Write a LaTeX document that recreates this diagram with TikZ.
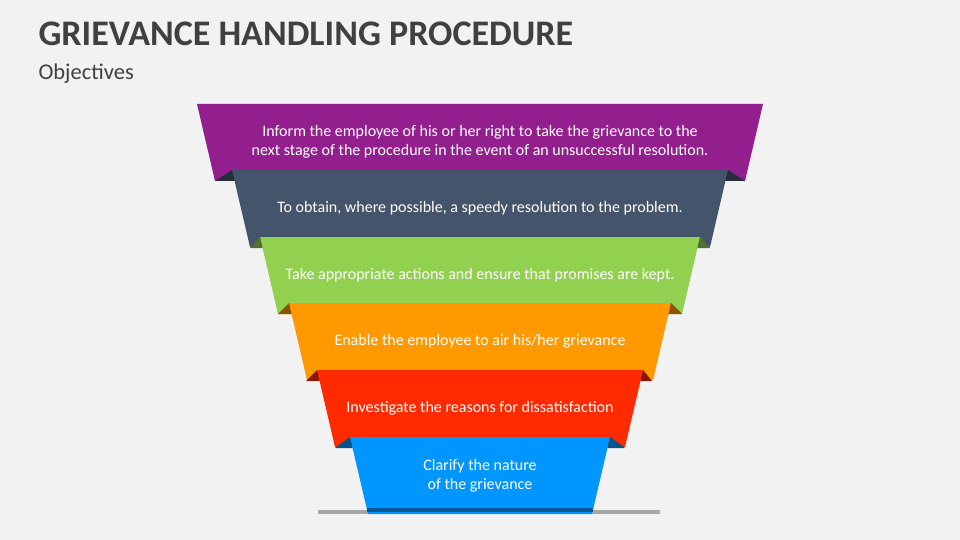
\documentclass[tikz,border=0pt]{standalone}
\usepackage{fontspec}
\setmainfont{Carlito}
\usetikzlibrary{positioning}
\definecolor{bgray}{HTML}{F2F2F2}
\definecolor{tgray}{HTML}{404040}
\definecolor{cone}{HTML}{921F8D}
\definecolor{ctwo}{HTML}{44546A}
\definecolor{cthree}{HTML}{92D050}
\definecolor{cfour}{HTML}{FF9900}
\definecolor{cfive}{HTML}{FF2A00}
\definecolor{csix}{HTML}{0096FF}
\begin{document}
\begin{tikzpicture}[x=1pt,y=-1pt,
  band text/.style={text=white,font=\fontsize{16}{19.5}\selectfont,align=center}]

  \fill[bgray] (0,0) rectangle (960,540);
  \useasboundingbox (0,0) rectangle (960,540);
  \node[anchor=west,text=tgray,font=\bfseries\fontsize{36}{40}\selectfont] (title) at (35,34) {GRIEVANCE HANDLING PROCEDURE};
  \node[anchor=west,text=tgray,font=\fontsize{22.5}{26}\selectfont] (sub) at (35,74) {Objectives};

  % shadow under the funnel
  \fill[gray!70] (318,510) rectangle (660,514);

  % bands: top y, top-left x, top-right x, colour
  \foreach \t/\l/\r/\c [count=\i] in {104/197/763/cone, 170/232/728/ctwo,
      237/260/700/cthree, 303/289/671/cfour, 370/317/643/cfive, 437/350/610/csix}{
    \fill[\c] (\l,\t) -- (\r,\t) -- (\r-18,\t+77) -- (\l+18,\t+77) -- cycle;
    \coordinate (b\i) at ({(\l+\r)/2},\t+38);
  }
  % folds
  \foreach \t/\l/\r/\pl/\pr/\c in {170/232/728/215/745/ctwo, 237/260/700/250/710/cthree,
      303/289/671/278/682/cfour, 370/317/643/306/652/cfive, 437/350/610/335/625/csix}{
    \fill[\c!55!black] (\l,\t) -- (\pl,\t+11) -- (\l+2.6,\t+11) -- cycle;
    \fill[\c!55!black] (\r,\t) -- (\pr,\t+11) -- (\r-2.6,\t+11) -- cycle;
  }
  \fill[csix!60!black] (367,508) rectangle (593,512);

  \node[band text] (t1) at (b1) {Inform the employee of his or her right to take the grievance to the\\next stage of the procedure in the event of an unsuccessful resolution.};
  \node[band text] (t2) at (b2) {To obtain, where possible, a speedy resolution to the problem.};
  \node[band text] (t3) at (b3) {Take appropriate actions and ensure that promises are kept.};
  \node[band text] (t4) at (b4) {Enable the employee to air his/her grievance};
  \node[band text] (t5) at (b5) {Investigate the reasons for dissatisfaction};
  \node[band text] (t6) at ([yshift=-1]b6) {Clarify the nature\\of the grievance};

\end{tikzpicture}
\end{document}
